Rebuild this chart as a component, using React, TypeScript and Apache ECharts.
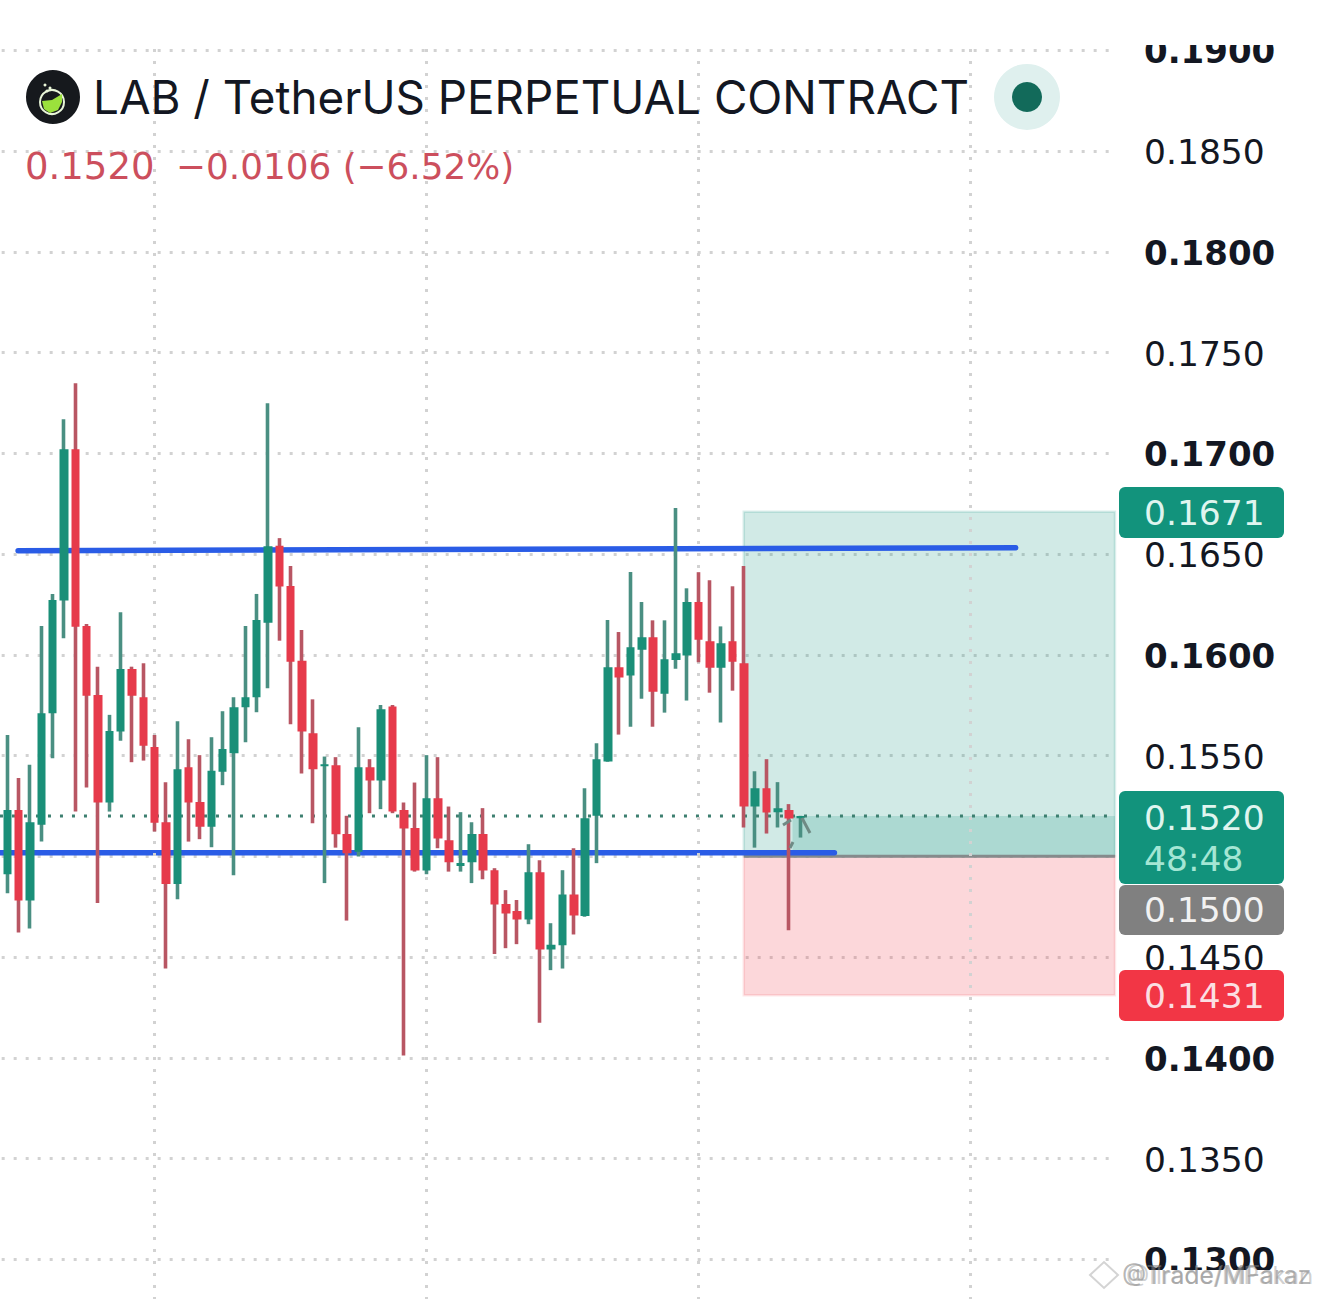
import React, { useEffect, useRef } from "react";
import * as echarts from "echarts";

const FONT = "Inter, 'Noto Sans', sans-serif";
const NUM_FONT = "'DejaVu Sans', sans-serif";

// [open, close, low, high]
const candles: number[][] = [
  [0.14911, 0.1523, 0.14817, 0.15602], [0.1523, 0.14781, 0.14622, 0.15388], [0.14781, 0.15169, 0.14642, 0.15454],
  [0.15157, 0.1571, 0.15073, 0.16143], [0.1571, 0.16272, 0.15487, 0.16302], [0.16269, 0.1702, 0.16082, 0.17169],
  [0.1702, 0.16139, 0.15222, 0.17348], [0.16143, 0.15797, 0.15341, 0.16153], [0.15801, 0.15267, 0.14768, 0.15941],
  [0.15267, 0.15622, 0.15222, 0.15702], [0.15619, 0.1593, 0.15574, 0.16211], [0.1593, 0.15797, 0.15467, 0.15941],
  [0.15789, 0.15549, 0.15475, 0.15958], [0.15542, 0.15167, 0.15123, 0.15602], [0.15169, 0.14862, 0.14443, 0.15368],
  [0.14862, 0.15432, 0.14787, 0.1567], [0.15442, 0.15267, 0.15073, 0.15581], [0.15269, 0.15147, 0.15085, 0.15502],
  [0.15147, 0.15424, 0.15045, 0.15591], [0.1542, 0.15532, 0.15353, 0.1572], [0.15512, 0.1574, 0.14906, 0.15789],
  [0.1574, 0.15789, 0.15566, 0.16143], [0.15789, 0.16173, 0.15715, 0.16302], [0.16159, 0.16539, 0.15834, 0.17249],
  [0.16541, 0.16339, 0.1607, 0.16579], [0.16342, 0.15965, 0.15655, 0.16441], [0.1597, 0.15619, 0.15411, 0.16123],
  [0.15611, 0.15432, 0.15164, 0.15779], [0.15447, 0.15457, 0.14867, 0.15495], [0.15452, 0.1511, 0.15043, 0.15492],
  [0.15111, 0.15015, 0.14681, 0.15201], [0.15022, 0.15442, 0.14999, 0.15641], [0.15442, 0.15376, 0.15214, 0.15482],
  [0.15376, 0.1573, 0.15234, 0.15751], [0.15743, 0.15222, 0.15214, 0.15751], [0.1523, 0.15138, 0.14011, 0.15267],
  [0.1514, 0.14929, 0.14924, 0.15366], [0.14929, 0.15288, 0.14911, 0.15502], [0.15288, 0.15088, 0.1504, 0.15492],
  [0.1508, 0.14971, 0.14924, 0.15247], [0.14952, 0.14967, 0.14924, 0.15219], [0.14971, 0.15111, 0.14867, 0.15169],
  [0.15111, 0.14929, 0.14886, 0.15239], [0.14931, 0.14761, 0.14515, 0.14941], [0.14763, 0.14716, 0.14544, 0.14832],
  [0.14728, 0.14686, 0.14564, 0.14783], [0.14686, 0.14921, 0.14663, 0.1506], [0.14921, 0.14537, 0.14174, 0.14981],
  [0.14537, 0.14561, 0.14435, 0.14668], [0.14559, 0.1481, 0.14443, 0.14931], [0.1481, 0.14706, 0.14612, 0.1504],
  [0.14704, 0.15189, 0.147, 0.15338], [0.15201, 0.15482, 0.14966, 0.15561], [0.1547, 0.15938, 0.15469, 0.16173],
  [0.15938, 0.15887, 0.15604, 0.16113], [0.15897, 0.16037, 0.15643, 0.16411], [0.16025, 0.16087, 0.15782, 0.16262],
  [0.16087, 0.15817, 0.15643, 0.16171], [0.15807, 0.15978, 0.15713, 0.16171], [0.15974, 0.16008, 0.15931, 0.16728],
  [0.15996, 0.16262, 0.15773, 0.1633], [0.16262, 0.16075, 0.15963, 0.1641], [0.16067, 0.15936, 0.15812, 0.1637],
  [0.15936, 0.16057, 0.15664, 0.16141], [0.16067, 0.15966, 0.15822, 0.1634], [0.15958, 0.15247, 0.15143, 0.16441],
  [0.15247, 0.15338, 0.15043, 0.15422], [0.15338, 0.15217, 0.15113, 0.15482], [0.15219, 0.15239, 0.15143, 0.15368],
  [0.1523, 0.15187, 0.14633, 0.15259], [0.15189, 0.152, 0.15093, 0.15201],
];
const BAR_SLOTS = 98;
const categories = Array.from({ length: BAR_SLOTS }, (_, i) => String(i));

const upperLevel = [[0.95, 0.16516], [89.0, 0.16531]];
const lowerLevel = [[-0.65, 0.15017], [73.0, 0.15017]];
const lastPriceLine = [[-0.65, 0.152], [97.76, 0.152]];
const timeGridBars = [13, 37, 61, 85];
// [startBar, endBar, lowPrice, highPrice]
const positionZones = [
  [65, 97.76, 0.15, 0.1671],
  [69.3, 97.76, 0.15, 0.152],
  [65, 97.76, 0.1431, 0.15],
];
const entryLine = [[65, 0.15], [97.76, 0.15]];
const titleText = "LAB / TetherUS PERPETUAL CONTRACT";
const lastText = "0.1520";
const changeText = "−0.0106 (−6.52%)";

const ZONE_FILL = ["rgba(24,150,130,0.2)", "rgba(24,150,130,0.2)", "rgba(242,54,69,0.2)"];
const ZONE_EDGE = ["rgba(24,150,130,0.16)", "rgba(24,150,130,0)", "rgba(242,54,69,0.12)"];

function priceTag(x: number, y: number, w: number, h: number, fill: string) {
  return { type: "rect", z: 110, shape: { x, y, width: w, height: h, r: 6 }, style: { fill } };
}
function tagText(text: string, y: number, fill = "#dff5ef") {
  return {
    type: "text", z: 111, x: 1144, y,
    style: { text, fill, font: `400 34.5px ${NUM_FONT}`, textVerticalAlign: "middle", textBaseline: "middle" },
  };
}

export default function App() {
  const ref = useRef<HTMLDivElement>(null);
  useEffect(() => {
    document.body.style.margin = "0";
    const chart = echarts.init(ref.current!, undefined, { renderer: "svg", width: 1320, height: 1299 });
    const wickUp = "#4a8f82";
    const wickDown = "#b85663";
    const bodyUp = "#1a8f78";
    const bodyDown = "#e63a4b";
    chart.setOption({
      animation: false,
      backgroundColor: "#ffffff",
      grid: { left: 1.67, top: -50.45, width: 1110.34, height: 1410.5, outerBoundsMode: "none" },
      xAxis: [
        { type: "category", data: categories, boundaryGap: true, show: false },
        { type: "value", min: -0.5, max: BAR_SLOTS - 0.5, show: false, splitLine: { show: false } },
      ],
      yAxis: {
        type: "value", position: "right", min: 0.125, max: 0.195, interval: 0.005,
        axisLine: { show: false }, axisTick: { show: false },
        splitLine: { show: true, lineStyle: { color: "#d2d2d2", width: 3, type: [3, 9] } },
        axisLabel: {
          show: true, margin: 32, align: "left", showMinLabel: false, showMaxLabel: false,
          formatter: (v: number) => {
            const t = v.toFixed(4);
            return t.endsWith("00") ? `{b|${t}}` : `{n|${t}}`;
          },
          rich: {
            b: { fontFamily: NUM_FONT, fontSize: 34, fontWeight: 700, color: "#131722", padding: [2, 0, 0, 0] },
            n: { fontFamily: NUM_FONT, fontSize: 34.5, fontWeight: 400, color: "#131722", padding: [2, 0, 0, 0] },
          },
        },
      },
      series: [
        {
          type: "line", name: "Time grid", xAxisIndex: 1, yAxisIndex: 0, data: [], symbol: "none", z: 1,
          markLine: {
            silent: true, symbol: "none", label: { show: false }, animation: false,
            lineStyle: { color: "#d2d2d2", width: 3, type: [3, 9] },
            data: timeGridBars.map((b) => ({ xAxis: b })),
          },
        },
        {
          type: "custom", name: "Position", xAxisIndex: 1, yAxisIndex: 0, z: 2, clip: false,
          data: positionZones,
          encode: { x: [0, 1], y: [2, 3] },
          renderItem: (params: any, api: any) => {
            const a = api.coord([api.value(0), api.value(3)]);
            const b = api.coord([api.value(1), api.value(2)]);
            return {
              type: "rect",
              shape: { x: a[0], y: a[1], width: b[0] - a[0], height: b[1] - a[1] },
              style: { fill: ZONE_FILL[params.dataIndex], stroke: ZONE_EDGE[params.dataIndex], lineWidth: 2.5 },
            };
          },
        },
        {
          type: "line", name: "Entry", xAxisIndex: 1, yAxisIndex: 0, data: entryLine, symbol: "none", z: 3, clip: false,
          lineStyle: { color: "#858b8c", width: 3 },
        },
        {
          type: "line", name: "Last price", xAxisIndex: 1, yAxisIndex: 0, data: lastPriceLine, symbol: "none", z: 3, clip: false,
          lineStyle: { color: "#3d7f70", width: 3, type: [3, 9] },
        },
        {
          type: "line", name: "Upper level", xAxisIndex: 1, yAxisIndex: 0, data: upperLevel, symbol: "none", z: 4, clip: false,
          lineStyle: { color: "#2a5ce6", width: 5.5, cap: "round" },
        },
        {
          type: "line", name: "Lower level", xAxisIndex: 1, yAxisIndex: 0, data: lowerLevel, symbol: "none", z: 4, clip: false,
          lineStyle: { color: "#2a5ce6", width: 5.5, cap: "round" },
        },
        {
          type: "candlestick", name: "Wicks", xAxisIndex: 0, yAxisIndex: 0, data: candles, barWidth: 1, z: 5,
          itemStyle: { color: wickUp, color0: wickDown, borderColor: wickUp, borderColor0: wickDown, borderWidth: 3.6 },
        },
        {
          type: "candlestick", name: "LAB/USDT.P", xAxisIndex: 0, yAxisIndex: 0, data: candles, barWidth: 9, z: 6,
          itemStyle: { color: bodyUp, color0: bodyDown, borderColor: bodyUp, borderColor0: bodyDown, borderWidth: 0 },
        },
      ],
      graphic: [
        { type: "rect", z: 100, shape: { x: 0, y: 0, width: 1320, height: 45 }, style: { fill: "#fff" } },
        { type: "rect", z: 100, shape: { x: 1120, y: 1270, width: 200, height: 29 }, style: { fill: "#fff" } },

        // arrow drawn on the last bars
        { type: "polyline", z: 50, shape: { points: [[783, 825], [791, 820]] }, style: { stroke: "#6f8a84", lineWidth: 3, fill: "none" } },
        { type: "polyline", z: 50, shape: { points: [[802, 818], [810, 833]] }, style: { stroke: "#6f8a84", lineWidth: 3, fill: "none" } },
        { type: "polyline", z: 50, shape: { points: [[790, 848], [793, 842]] }, style: { stroke: "#6f8a84", lineWidth: 3, fill: "none" } },

        // logo
        { type: "circle", z: 101, shape: { cx: 53, cy: 97, r: 27 }, style: { fill: "#16191d" } },
        { type: "circle", z: 102, shape: { cx: 52, cy: 102, r: 12 }, style: { fill: "#16191d", stroke: "#e8f5d8", lineWidth: 2 } },
        { type: "polygon", z: 103, shape: { points: [[42, 101], [52, 100], [62, 94], [62, 102], [58, 110], [50, 113], [44, 109]] }, style: { fill: "#9be13c" } },
        { type: "circle", z: 103, shape: { cx: 45, cy: 85, r: 1.5 }, style: { fill: "#e8f5d8" } },
        { type: "circle", z: 103, shape: { cx: 50, cy: 88, r: 1.5 }, style: { fill: "#e8f5d8" } },
        { type: "circle", z: 103, shape: { cx: 47, cy: 91, r: 1.5 }, style: { fill: "#e8f5d8" } },

        // header text
        { type: "text", z: 101, x: 93, y: 97, style: { text: titleText, fill: "#131722", font: `400 45.8px ${FONT}`, textBaseline: "middle", textVerticalAlign: "middle" } },
        { type: "text", z: 101, x: 25, y: 166, style: { text: lastText, fill: "#cc4f5d", font: `400 37px ${NUM_FONT}`, textBaseline: "middle", textVerticalAlign: "middle" } },
        { type: "text", z: 101, x: 176, y: 166, style: { text: changeText, fill: "#cc4f5d", font: `400 35.8px ${NUM_FONT}`, textBaseline: "middle", textVerticalAlign: "middle" } },

        // status dot
        { type: "circle", z: 101, shape: { cx: 1027, cy: 97, r: 33 }, style: { fill: "#dff0ee" } },
        { type: "circle", z: 102, shape: { cx: 1027, cy: 97, r: 15 }, style: { fill: "#126a5a" } },

        // price tags
        priceTag(1119, 487, 165, 51, "#12937c"),
        tagText("0.1671", 513),
        priceTag(1119, 791, 165, 93, "#12937c"),
        tagText("0.1520", 818),
        tagText("48:48", 859, "#a4e6d4"),
        priceTag(1119, 885, 165, 50, "#808080"),
        tagText("0.1500", 910, "#f2f2f2"),
        priceTag(1119, 970, 165, 51, "#f23645"),
        tagText("0.1431", 996, "#fbdfe2"),

        // watermark
        { type: "polygon", z: 120, shape: { points: [[1090, 1275], [1104, 1262], [1118, 1275], [1104, 1288]] }, style: { fill: "none", stroke: "#d4d4d4", lineWidth: 2 } },
        { type: "text", z: 120, x: 1122, y: 1275, style: { text: "@Trade/MFaraz", fill: "rgba(120,120,120,0.55)", font: `400 25px ${FONT}`, textBaseline: "middle", textVerticalAlign: "middle" } },
        { type: "text", z: 120, x: 1126, y: 1275, style: { text: "@IIrade/MPakan", fill: "rgba(150,150,150,0.45)", font: `400 24px ${FONT}`, textBaseline: "middle", textVerticalAlign: "middle" } },
      ],
    });
    return () => chart.dispose();
  }, []);
  return <div ref={ref} style={{ position: "absolute", left: 0, top: 0, width: 1320, height: 1299 }} />;
}
